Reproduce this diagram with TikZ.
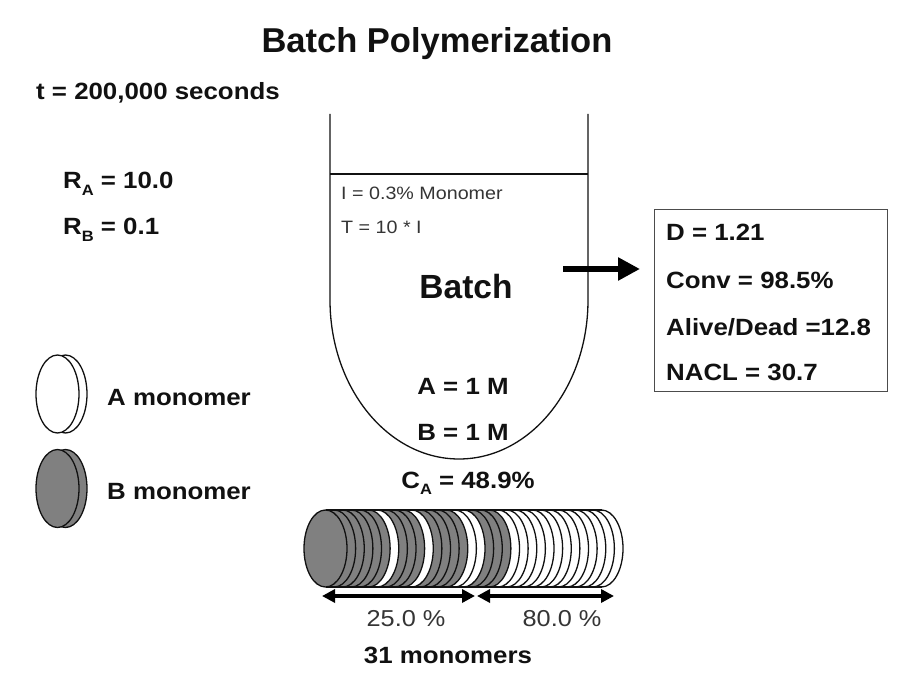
\documentclass[tikz,border=0pt]{standalone}
\usepackage{fontspec}
\setmainfont{Liberation Sans}
\newfontfamily\wideb[FakeStretch=1.1]{Liberation Sans Bold}
\newfontfamily\widen[FakeStretch=1.1]{Liberation Sans}
\usetikzlibrary{arrows.meta}
\definecolor{mono}{HTML}{808080}
\definecolor{ink}{HTML}{111111}
\newcommand{\fsz}[1]{\fontsize{#1}{#1}\selectfont}
\newcommand{\subb}[1]{\raisebox{-0.28em}{\fontsize{15}{15}\selectfont #1}}
\tikzset{
  x=1pt,y=-1pt,
  lab/.style={anchor=base west,inner sep=0pt,text=ink,font=\wideb\fsz{23.5}},
  labc/.style={lab,anchor=base},
  thin lab/.style={anchor=base west,inner sep=0pt,text=ink!85,font=\widen\fsz{17.9}},
  pct/.style={anchor=base,inner sep=0pt,text=ink!85,font=\widen\fsz{23}},
  wall/.style={draw=ink,line width=1.3pt},
  disk/.style={draw=ink,line width=1.3pt},
  dim/.style={draw=black,line width=3.5pt,{Triangle[length=13pt,width=13pt]}-{Triangle[length=13pt,width=13pt]}},
  flow/.style={draw=black,line width=6pt,-{Triangle[length=22pt,width=22pt]}}
}
\begin{document}
\begin{tikzpicture}
\useasboundingbox[fill=white] (0,0) rectangle (915,684);
% vessel
\draw[wall] (330,114) -- (330,300) arc[start angle=180,end angle=0,x radius=129,y radius=159] -- (588,114);
\draw[wall] (330,174) -- (588,174);
% titles
\node[anchor=base,inner sep=0pt,text=ink,font=\bfseries\fsz{34.5}] (title) at (437,53) {Batch Polymerization};
\node[lab] (time) at (36,100) {t = 200,000 seconds};
\node[lab] (ra) at (63,189) {R\subb{A} = 10.0};
\node[lab] (rb) at (63,235) {R\subb{B} = 0.1};
\node[thin lab] (init) at (341,200) {I = 0.3\% Monomer};
\node[thin lab] (tt) at (341,234) {T = 10 * I};
\node[anchor=base,inner sep=0pt,text=ink,font=\bfseries\fsz{33.5}] (batch) at (466,299) {Batch};
\node[labc] (ca) at (463,394) {A = 1 M};
\node[labc] (cb) at (463,440) {B = 1 M};
\node[labc] (caa) at (468,488) {C\subb{A} = 48.9\%};
% output box
\node[draw=ink!75,line width=1.3pt,fill=white,minimum width=233pt,minimum height=182pt,inner sep=0pt,anchor=north west] (box) at (654,209) {};
\node[lab] (d) at (666,241) {D = 1.21};
\node[lab] (conv) at (666,289) {Conv = 98.5\%};
\node[lab] (alive) at (666,335) {Alive/Dead =12.8};
\node[lab] (nacl) at (666,380) {NACL = 30.7};
\coordinate (fa) at (563,269);
\coordinate (fb) at (640,269);
\draw[flow] (fa) -- (fb);
% legend
\foreach \cy/\col/\nm/\txt/\by in {394/white/amon/A monomer/405,488.5/mono/bmon/B monomer/499}{
  \draw[disk,fill=\col] (65.5,\cy) ellipse[x radius=21.5,y radius=39];
  \draw[disk,fill=\col] (57.5,\cy) ellipse[x radius=21.5,y radius=39];
  \node[lab] (\nm) at (107,\by) {\txt};
}
% stack of monomers
\def\stackstep{8.625}
\foreach \k in {31,30,...,0}{
  \pgfmathtruncatemacro{\isg}{(\k<5)||(\k>5 && \k<9)||(\k>9 && \k<14)||(\k>15 && \k<19)}
  \ifnum\isg=1 \def\cc{mono}\else\def\cc{white}\fi
  \draw[disk,fill=\cc] ({325.5+(\k+1)*\stackstep},548.5) ellipse[x radius=21.5,y radius=38.5];
}
\draw[disk,fill=mono] (325.5,548.5) ellipse[x radius=21.5,y radius=38.5];
\draw[disk] (325.5,510) -- ({325.5+32*\stackstep},510);
\draw[disk] (325.5,587) -- ({325.5+32*\stackstep},587);
\coordinate (l1) at (322,596);
\coordinate (l2) at (475,596);
\coordinate (r1) at (477,596);
\coordinate (r2) at (614,596);
\draw[dim] (l1) -- (l2);
\draw[dim] (r1) -- (r2);
\node[pct] (p1) at (406,626) {25.0 \%};
\node[pct] (p2) at (562,626) {80.0 \%};
\node[labc] (count) at (448,663) {31 monomers};
\end{tikzpicture}
\end{document}
